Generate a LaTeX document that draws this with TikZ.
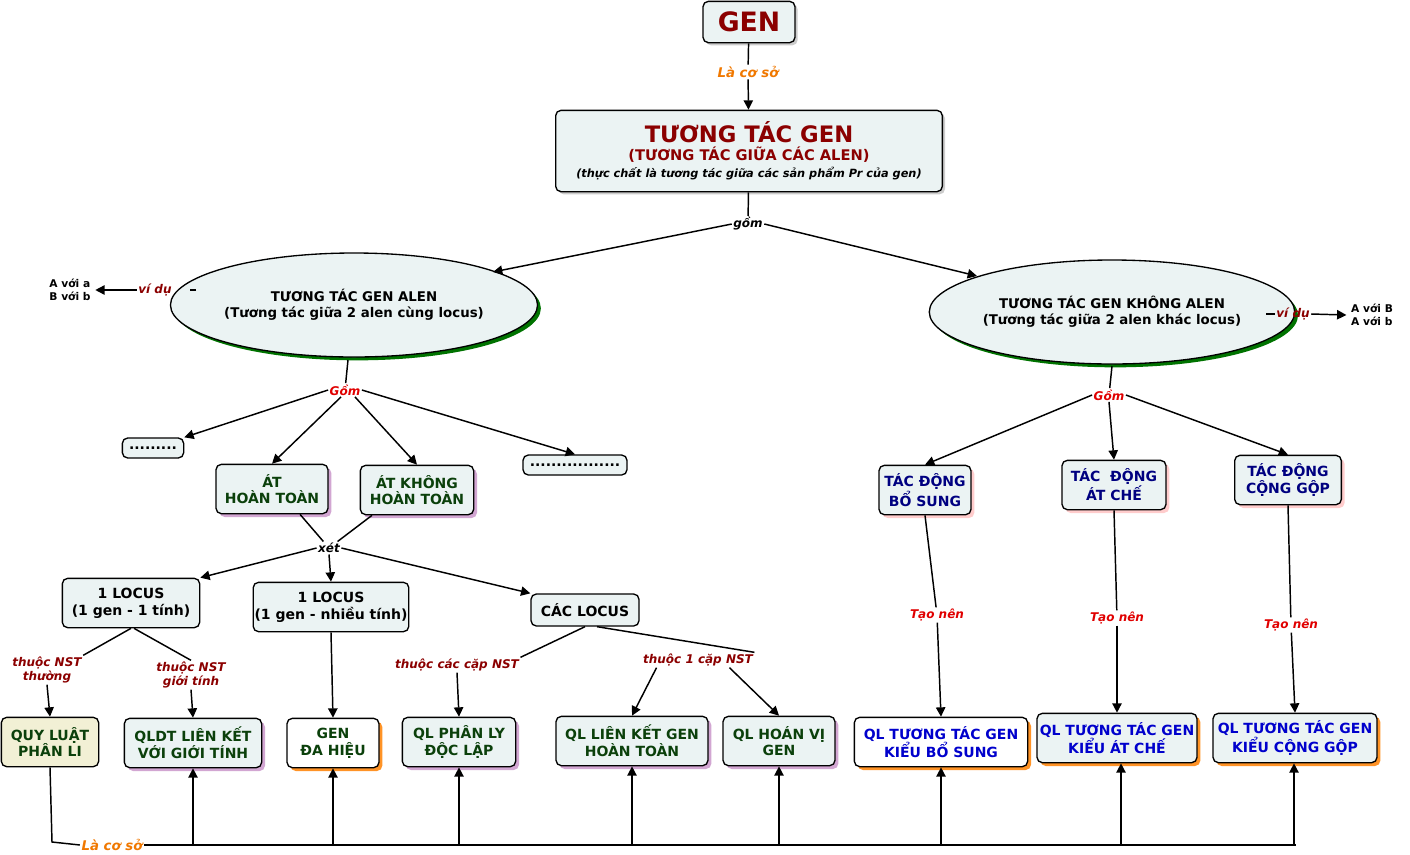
\documentclass[tikz,border=0pt]{standalone}
\usepackage{fontspec}
\setmainfont{DejaVu Sans}
\usetikzlibrary{shadows,arrows.meta,shapes.geometric}
\definecolor{bx}{HTML}{EBF3F3}
\definecolor{dred}{HTML}{8B0000}
\definecolor{rd}{HTML}{E00000}
\definecolor{org}{HTML}{F07800}
\definecolor{grn}{HTML}{0B400B}
\definecolor{nav}{HTML}{000080}
\definecolor{blu}{HTML}{0000CC}
\begin{document}
\begin{tikzpicture}[x=0.75pt,y=-0.75pt,
 box/.style={draw=black,line width=1pt,rounded corners=4pt,fill=bx,align=center,inner sep=1pt,font=\fontsize{10.5}{12.5}\selectfont\bfseries},
 psh/.style={drop shadow={shadow xshift=2.5pt,shadow yshift=-2.5pt,fill=violet!35,opacity=1}},
 ksh/.style={drop shadow={shadow xshift=2.5pt,shadow yshift=-2.5pt,fill=red!20,opacity=1}},
 osh/.style={drop shadow={shadow xshift=2.5pt,shadow yshift=-2.5pt,fill=orange!85,opacity=1}},
 gsh/.style={drop shadow={shadow xshift=2.5pt,shadow yshift=-2.5pt,fill=green!45!black,opacity=1}},
 lab/.style={font=\fontsize{9}{10.5}\selectfont\bfseries\itshape,align=center,inner sep=1pt},
 ell/.style={draw=black,line width=1pt,ellipse,fill=bx,align=center,font=\fontsize{10}{12}\selectfont\bfseries},
 ln/.style={line width=1.1pt},
 ar/.style={line width=1.1pt,-{Triangle[length=7pt,width=7pt]}}]
\useasboundingbox (0,0) rectangle (1410,854);
% top
\node[box,minimum width=69pt,minimum height=31pt,text=dred,font=\fontsize{20}{22}\selectfont\bfseries,drop shadow={shadow xshift=2pt,shadow yshift=-2pt,fill=gray!40,opacity=1}] (gen) at (749,22) {GEN};
\node[lab,text=org,font=\fontsize{10}{12}\selectfont\bfseries\itshape] (lcs1) at (748,72) {Là cơ sở};
\node[box,minimum width=290pt,minimum height=61pt,drop shadow={shadow xshift=2pt,shadow yshift=-2pt,fill=gray!40,opacity=1}] (ttg) at (749,151) {{\fontsize{17}{19}\selectfont\color{dred}TƯƠNG TÁC GEN}\\[1pt]{\fontsize{11}{13}\selectfont\color{dred}(TƯƠNG TÁC GIỮA CÁC ALEN)}\\{\fontsize{8.5}{10}\selectfont\itshape(thực chất là tương tác giữa các sản phẩm Pr của gen)}};
\draw[ln] (gen) -- (lcs1);
\draw[ar] (lcs1) -- (ttg);
\node[lab] (gom) at (748,224) {gồm};
\draw[ln] (ttg) -- (gom);
% ellipses
\node[ell,gsh,minimum width=229pt,minimum height=78pt,inner sep=0pt] (ea) at (354,305) {TƯƠNG TÁC GEN ALEN\\(Tương tác giữa 2 alen cùng locus)};
\node[ell,gsh,minimum width=229pt,minimum height=78pt,inner sep=0pt] (eb) at (1112,312) {TƯƠNG TÁC GEN KHÔNG ALEN\\(Tương tác giữa 2 alen khác locus)};
\draw[ar] (gom.west) -- (493,272);
\draw[ar] (gom.east) -- (977,276);
% examples
\node[lab,text=dred] (vd1) at (155,290) {ví dụ};
\node[font=\fontsize{8}{9.5}\selectfont\bfseries,align=left] (ex1) at (70,290) {A với a\\B với b};
\draw[ln] (196,290) -- (190,290);
\draw[ar] (vd1.west) -- (ex1.east);
\node[lab,text=dred] (vd2) at (1293,314) {ví dụ};
\node[font=\fontsize{8}{9.5}\selectfont\bfseries,align=left] (ex2) at (1372,315) {A với B\\A với b};
\draw[ln] (1266,314) -- (vd2.west);
\draw[ar] (vd2.east) -- (ex2.west);
% left subtree
\node[lab,text=rd] (g1) at (345,390) {Gồm};
\draw[ln] (348,360) -- (g1);
\node[box,minimum width=46pt,minimum height=15pt] (d1) at (153,448) {.........};
\node[box,minimum width=78pt,minimum height=15pt] (d2) at (575,465) {.................};
\node[box,psh,minimum width=84pt,minimum height=37pt,text=grn] (at1) at (272,489) {ÁT\\HOÀN TOÀN};
\node[box,psh,minimum width=85pt,minimum height=37pt,text=grn] (at2) at (417,490) {ÁT KHÔNG\\HOÀN TOÀN};
\draw[ar] (g1.west) -- (d1.north east);
\draw[ar] (g1.south) ++(-4,0) -- (at1.north);
\draw[ar] (g1.south) ++(10,0) -- (at2.north);
\draw[ar] (g1.east) -- (d2.north);
\node[lab] (xet) at (329,548) {xét};
\draw[ln] (at1.south) ++(28,0) -- (xet);
\draw[ln] (at2.south) ++(-45,0) -- (xet);
\node[box,minimum width=103pt,minimum height=37pt] (l1) at (131,603) {1 LOCUS\\(1 gen - 1 tính)};
\node[box,minimum width=110pt,minimum height=37pt] (l2) at (331,607) {1 LOCUS\\(1 gen - nhiều tính)};
\node[box,minimum width=81pt,minimum height=24pt] (l3) at (585,610) {CÁC LOCUS};
\draw[ar] (xet.west) -- (l1.north east);
\draw[ar] (xet.south) -- (l2.north);
\draw[ar] (xet.east) -- (l3.north west);
\node[lab,text=dred] (t1) at (47,670) {thuộc NST\\thường};
\node[lab,text=dred] (t2) at (191,675) {thuộc NST\\giới tính};
\node[lab,text=dred] (t3) at (457,665) {thuộc các cặp NST};
\node[lab,text=dred] (t4) at (698,660) {thuộc 1 cặp NST};
\draw[ln] (l1.south) -- (t1.north east);
\draw[ln] (l1.south) ++(3,0) -- (t2.north);
\draw[ln] (l3.south) -- (t3.north east);
\draw[ln] (l3.south) ++(12,0) -- (t4.north east);
\node[box,minimum width=73pt,minimum height=37pt,fill=olive!12,text=grn] (q1) at (50,742) {QUY LUẬT\\PHÂN LI};
\node[box,psh,minimum width=103pt,minimum height=37pt,text=grn] (q2) at (193,743) {QLDT LIÊN KẾT\\VỚI GIỚI TÍNH};
\node[box,osh,minimum width=69pt,minimum height=37pt,fill=white,text=grn] (q3) at (333,743) {GEN\\ĐA HIỆU};
\node[box,psh,minimum width=85pt,minimum height=37pt,text=grn] (q4) at (459,742) {QL PHÂN LY\\ĐỘC LẬP};
\node[box,psh,minimum width=114pt,minimum height=37pt,text=grn] (q5) at (632,741) {QL LIÊN KẾT GEN\\HOÀN TOÀN};
\node[box,psh,minimum width=84pt,minimum height=37pt,text=grn] (q6) at (779,741) {QL HOÁN VỊ\\GEN};
\draw[ar] (t1.south) -- (q1.north);
\draw[ar] (t2.south) -- (q2.north);
\draw[ar] (l2.south) -- (q3.north);
\draw[ar] (t3.south) -- (q4.north);
\draw[ar] (t4.south west) ++(15,0) -- (q5.north);
\draw[ar] (t4.south east) ++(-25,0) -- (q6.north);
% right subtree
\node[lab,text=rd] (g2) at (1109,395) {Gồm};
\draw[ln] (1112,366) -- (g2);
\node[box,ksh,minimum width=69pt,minimum height=37pt,text=nav] (r1) at (925,490) {TÁC ĐỘNG\\BỔ SUNG};
\node[box,ksh,minimum width=78pt,minimum height=37pt,text=nav] (r2) at (1114,485) {TÁC\ \ ĐỘNG\\ÁT CHẾ};
\node[box,ksh,minimum width=80pt,minimum height=37pt,text=nav] (r3) at (1288,480) {TÁC ĐỘNG\\CỘNG GỘP};
\draw[ar] (g2.west) -- (r1.north);
\draw[ar] (g2.south) -- (r2.north);
\draw[ar] (g2.east) -- (r3.north);
\node[lab,text=rd] (tn1) at (937,615) {Tạo nên};
\node[lab,text=rd] (tn2) at (1117,618) {Tạo nên};
\node[lab,text=rd] (tn3) at (1291,625) {Tạo nên};
\node[box,osh,minimum width=130pt,minimum height=37pt,fill=white,text=blu] (s1) at (941,742) {QL TƯƠNG TÁC GEN\\KIỂU BỔ SUNG};
\node[box,osh,minimum width=120pt,minimum height=37pt,text=blu] (s2) at (1117,738) {QL TƯƠNG TÁC GEN\\KIỂU ÁT CHẾ};
\node[box,osh,minimum width=123pt,minimum height=37pt,text=blu] (s3) at (1295,738) {QL TƯƠNG TÁC GEN\\KIỂU CỘNG GỘP};
\draw[ln] (r1.south) -- (tn1);
\draw[ln] (r2.south) -- (tn2);
\draw[ln] (r3.south) -- (tn3);
\draw[ar] (tn1) -- (s1.north);
\draw[ar] (tn2) -- (s2.north);
\draw[ar] (tn3) -- (s3.north);
% bottom base line
\node[lab,text=org,font=\fontsize{10}{12}\selectfont\bfseries\itshape] (lcs2) at (112,845) {Là cơ sở};
\draw[ln] (q1.south) -- (52,842) -- (lcs2.west);
\coordinate (be) at (1296,845);
\draw[line width=2pt] (lcs2.east) -- (be);
\foreach \n/\x in {q2/193,q3/333,q4/459,q5/632,q6/779,s1/941,s2/1121,s3/1294}
  \draw[ar] (\x,845) -- (\x,845 |- \n.south);
\end{tikzpicture}
\end{document}
